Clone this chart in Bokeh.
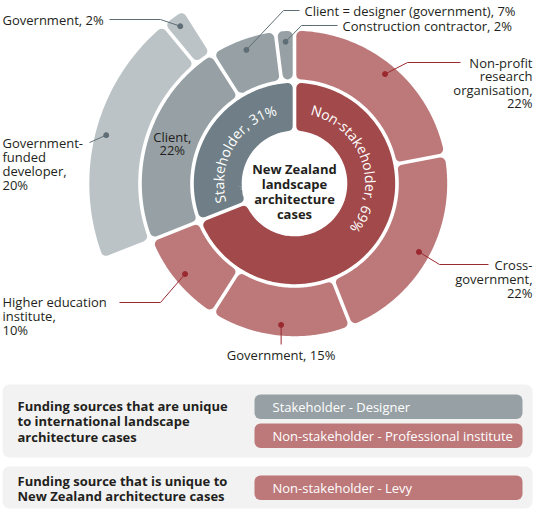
import re
import numpy as np
from bokeh.plotting import figure
from bokeh.models import Range1d, ColumnDataSource
from bokeh.embed import file_html
from bokeh.resources import INLINE
from bokeh.core.properties import value

# ---------------- data ----------------
level1_labels = ["Stakeholder", "Non-stakeholder"]
level1_values = [31, 69]
stakeholder_labels = ["Client", "Client = designer (government)", "Construction contractor"]
stakeholder_values = [22, 7, 2]
client_labels = ["Government-funded developer", "Government"]
client_values = [20, 2]
nonstakeholder_labels = ["Non-profit research organisation", "Cross-government",
                         "Government", "Higher education institute"]
nonstakeholder_values = [22, 22, 15, 10]
centre_title = "New Zealand landscape architecture cases"
panel_titles = [["Funding sources that are unique", "to international landscape", "architecture cases"],
                ["Funding source that is unique to", "New Zealand architecture cases"]]
panel_items = [["Stakeholder - Designer", "Non-stakeholder - Professional institute"],
               ["Non-stakeholder - Levy"]]
panel_item_groups = [["Stakeholder", "Non-stakeholder"], ["Non-stakeholder"]]

# ---------------- style / layout ----------------
W, H = 534, 509
PAGE_H = 525
def Y(yp):
    return PAGE_H - yp

CX, CY = 302, Y(191)
RINGS = [(51.0, 102.5), (102.5, 154.5), (154.5, 207.0)]
GAP = 3.6
CORNER = 5.0
DOT_FRAC = 0.76
FONT = "Open Sans"
TXT = "#231f20"
COL = {
    ("Stakeholder", 0): "#707f87", ("Stakeholder", 1): "#97a1a5", ("Stakeholder", 2): "#bcc3c6",
    ("Non-stakeholder", 0): "#a24a4b", ("Non-stakeholder", 1): "#bd7879",
}
LINE_COL = {"Stakeholder": "#5f6e76", "Non-stakeholder": "#9a2a30"}

p = figure(width=W, height=H, x_range=Range1d(8, 8 + W), y_range=Range1d(PAGE_H - 8 - H, PAGE_H - 8),
           output_backend="svg", toolbar_location=None, min_border=0,
           x_axis_type=None, y_axis_type=None)
p.grid.visible = False
p.outline_line_color = None
p.background_fill_color = "white"
p.border_fill_color = "white"

# ---------------- angles from the data ----------------
def spans(values, start):
    out, cum = [], start
    for v in values:
        out.append((cum, cum + v * 3.6))
        cum += v * 3.6
    return out

start = -level1_values[0] * 3.6
l1 = spans(level1_values, start)
l2_stake = spans(stakeholder_values, l1[0][0])
l2_non = spans(nonstakeholder_values, l1[1][0])
l3_client = spans(client_values, l2_stake[0][0])

segments = []  # (group, ring, name, value, a0, a1)
for (a0, a1), n, v in zip(l1, level1_labels, level1_values):
    segments.append((n, 0, n, v, a0, a1))
for (a0, a1), n, v in zip(l2_stake, stakeholder_labels, stakeholder_values):
    segments.append(("Stakeholder", 1, n, v, a0, a1))
for (a0, a1), n, v in zip(l2_non, nonstakeholder_labels, nonstakeholder_values):
    segments.append(("Non-stakeholder", 1, n, v, a0, a1))
for (a0, a1), n, v in zip(l3_client, client_labels, client_values):
    segments.append(("Stakeholder", 2, n, v, a0, a1))

def polar(theta_deg, r):
    t = np.radians(theta_deg)
    return CX + r * np.sin(t), CY + r * np.cos(t)

def sector(a0, a1, ring):
    r_in = ring[0] + GAP / 2 + CORNER
    r_out = ring[1] - GAP / 2 - CORNER
    h = GAP / 2 + CORNER
    def lim(r):
        d = np.degrees(np.arcsin(min(h / r, 1.0)))
        lo, hi = a0 + d, a1 - d
        if lo > hi:
            lo = hi = (a0 + a1) / 2
        return lo, hi
    lo_o, hi_o = lim(r_out)
    lo_i, hi_i = lim(r_in)
    to = np.linspace(lo_o, hi_o, 90)
    ti = np.linspace(hi_i, lo_i, 70)
    xo, yo = polar(to, r_out)
    xi, yi = polar(ti, r_in)
    return np.concatenate([xo, xi]).tolist(), np.concatenate([yo, yi]).tolist()

xs, ys, cols = [], [], []
for g, ring, n, v, a0, a1 in segments:
    sx, sy = sector(a0, a1, RINGS[ring])
    xs.append(sx); ys.append(sy); cols.append(COL[(g, ring)])
p.patches(xs=xs, ys=ys, fill_color=cols, line_color=cols, line_width=2 * CORNER, line_join="round")

# ---------------- bottom panel backgrounds (drawn before texts) ----------------
PANELS = [dict(top=392, bottom=465, text_y=413, items_y=[402, 431]),
          dict(top=474, bottom=516, text_y=488, items_y=[483])]
ITEM_H = 24.5
qa = dict(left=[], right=[], top=[], bottom=[])
pa = dict(left=[], right=[], top=[], bottom=[], c=[])
for spec, items, groups in zip(PANELS, panel_items, panel_item_groups):
    qa["left"].append(10); qa["right"].append(540)
    qa["top"].append(Y(spec["top"])); qa["bottom"].append(Y(spec["bottom"]))
    for it, gname, yt in zip(items, groups, spec["items_y"]):
        pa["left"].append(262); pa["right"].append(530)
        pa["top"].append(Y(yt)); pa["bottom"].append(Y(yt + ITEM_H)); pa["c"].append(COL[(gname, 1)])
p.quad(left=qa["left"], right=qa["right"], top=qa["top"], bottom=qa["bottom"],
       fill_color="#f2f2f2", line_color=None, border_radius=7)
p.quad(left=pa["left"], right=pa["right"], top=pa["top"], bottom=pa["bottom"],
       fill_color=pa["c"], line_color=None, border_radius=6)

# ---------------- text helpers ----------------
def wrap(s, counts):
    toks = re.findall(r"[^\s-]+-?|-", s)
    lines, i = [], 0
    for c in counts:
        part = toks[i:i + c]; i += c
        line = ""
        for t in part:
            if line and not line.endswith("-"):
                line += " "
            line += t
        lines.append(line)
    return lines

def put_lines(lines, x, y0, align, size="13px", style="normal", color=TXT, lh=14):
    src = ColumnDataSource(dict(x=[x] * len(lines), y=[Y(y0 + k * lh) for k in range(len(lines))], t=lines))
    p.text(x="x", y="y", text="t", source=src, text_align=align, text_baseline="middle",
           text_font=value(FONT), text_font_size=size, text_font_style=style, text_color=color)

# ---------------- outer labels with connectors ----------------
LAYOUT = {
    (2, "Government"): dict(counts=[2], x=10, y=27, align="left", lh=14, path=[(168, 27), (117, 27)]),
    (2, "Government-funded developer"): dict(counts=[1, 1, 1, 1], x=10, y=150, align="left", lh=14,
                                            path=[(97, 150)]),
    (1, "Client = designer (government)"): dict(counts=[5], x=312, y=18, align="left", lh=14,
                                               path=[(291, 18), (307, 18)]),
    (1, "Construction contractor"): dict(counts=[3], x=350, y=33, align="left", lh=14,
                                        path=[(309, 33), (345, 33)]),
    (1, "Non-profit research organisation"): dict(counts=[2, 1, 1, 1], x=540, y=70, align="right", lh=13.5,
                                                 path=[(415, 70), (468, 70)]),
    (1, "Cross-government"): dict(counts=[1, 1, 1], x=540, y=272, align="right", lh=14,
                                 path=[(447, 272), (496, 272)]),
    (1, "Government"): dict(counts=[2], x=None, y=362, align="center", lh=14, path=[(None, 352)]),
    (1, "Higher education institute"): dict(counts=[2, 1, 1], x=10, y=309, align="left", lh=14,
                                           path=[(168, 310), (127, 310)]),
}

dots_x, dots_y, dots_c = [], [], []
lx, ly, lc = [], [], []
for g, ring, n, v, a0, a1 in segments:
    key = (ring, n)
    if ring == 0 or key not in LAYOUT:
        continue
    spec = LAYOUT[key]
    r0, r1 = RINGS[ring]
    dx, dy = polar((a0 + a1) / 2, r0 + DOT_FRAC * (r1 - r0))
    dots_x.append(dx); dots_y.append(dy); dots_c.append(LINE_COL[g])
    px = [dx] + [(dx if q[0] is None else q[0]) for q in spec["path"]]
    py = [dy] + [Y(q[1]) for q in spec["path"]]
    lx.append(px); ly.append(py); lc.append(LINE_COL[g])
    tx = dx if spec["x"] is None else spec["x"]
    put_lines(wrap(f"{n}, {v}%", spec["counts"]), tx, spec["y"], spec["align"], lh=spec["lh"])

p.multi_line(xs=lx, ys=ly, line_color=lc, line_width=1)
p.scatter(x=dots_x, y=dots_y, size=5, marker="circle", fill_color=dots_c, line_color=dots_c)

# Client label inside its segment
for g, ring, n, v, a0, a1 in segments:
    if ring == 1 and n == "Client":
        r0, r1 = RINGS[ring]
        cx_, cy_ = polar((a0 + a1) / 2, (r0 + r1) / 2)
        put_lines(wrap(f"{n}, {v}%", [1, 1]), cx_, PAGE_H - cy_ - 6.5, "center", lh=13)

# ---------------- curved inner-ring texts ----------------
CHAR_W = {'S': .549, 't': .353, 'a': .556, 'k': .53, 'e': .561, 'h': .613, 'o': .603, 'l': .258,
          'd': .613, 'r': .409, ',': .245, ' ': .26, '3': .572, '1': .572, '%': .823, 'N': .754,
          'n': .613, '-': .322, 's': .479, '6': .572, '9': .572}
ARC_SIZE = 14.0
ARC_SPACING = 0.5
ARC_R = 76.0
ARC_CENTRE = {"Stakeholder": -59.5, "Non-stakeholder": 71.0}

ax, ay, at, aa = [], [], [], []
for n, v in zip(level1_labels, level1_values):
    s = f"{n}, {v}%"
    w = [CHAR_W.get(c, .56) * ARC_SIZE for c in s]
    total = sum(w) + ARC_SPACING * (len(s) - 1)
    ext = np.degrees(total / ARC_R)
    pos = 0.0
    for c, wi in zip(s, w):
        theta = ARC_CENTRE[n] - ext / 2 + np.degrees((pos + wi / 2) / ARC_R)
        x, y = polar(theta, ARC_R)
        ax.append(x); ay.append(y); at.append(c); aa.append(-np.radians(theta))
        pos += wi + ARC_SPACING
p.text(x=ax, y=ay, text=at, angle=aa, text_align="center", text_baseline="middle",
       text_font=value(FONT), text_font_size=f"{ARC_SIZE}px", text_color="white")

# centre title
put_lines(wrap(centre_title, [2, 1, 1, 1]), CX, 176, "center", size="13px", style="bold", lh=15)

# ---------------- bottom panel texts ----------------
for spec, titles, items in zip(PANELS, panel_titles, panel_items):
    for it, yt in zip(items, spec["items_y"]):
        put_lines([it], 280, yt + ITEM_H / 2, "left", size="13px", color="white")
    put_lines(titles, 25, spec["text_y"], "left", size="13px", style="bold", lh=15.5)

open("out.html", "w").write(file_html(p, INLINE))
